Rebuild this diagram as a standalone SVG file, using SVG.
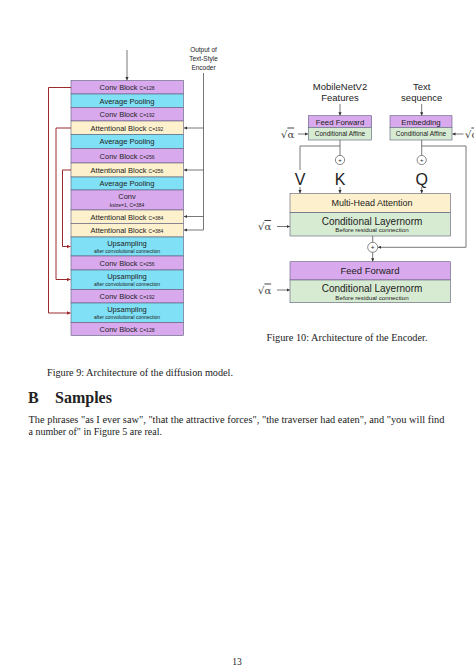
<svg xmlns="http://www.w3.org/2000/svg" width="474" height="670" viewBox="0 0 474 670">
<style>
.blk{stroke:#5a5a7a;stroke-width:0.6}
.cv{fill:#d9a9ee}
.ap{fill:#7fe0f6}
.at{fill:#fdf0cc}
.gr{fill:#d7ebd3}
.t{font-family:"Liberation Sans",Arial,sans-serif;fill:#222;text-anchor:middle}
.s{font-size:7.5px}
.xs{font-size:5px}
.sr{font-family:"Liberation Serif","Times New Roman",serif;fill:#222}
.ln{fill:none;stroke:#555;stroke-width:0.8}
.rd{fill:none;stroke:#9b2a2e;stroke-width:1}
.sq{font-family:"DejaVu Serif",serif;font-size:10px;fill:#444}
</style>
<defs>
<marker id="ag" viewBox="0 0 6 6" refX="6" refY="3" markerWidth="4" markerHeight="4" orient="auto"><path d="M0,0L6,3L0,6z" fill="#333"/></marker>
<marker id="ar" viewBox="0 0 6 6" refX="6" refY="3" markerWidth="4" markerHeight="4" orient="auto"><path d="M0,0L6,3L0,6z" fill="#9b2a2e"/></marker>
</defs>
<rect width="474" height="670" fill="#fff"/>

<g id="diffusion">
<g id="b1"><rect class="blk cv" x="71" y="80.5" width="112.5" height="13.5"/><text class="t s" x="127" y="90">Conv Block <tspan font-size="5">C=128</tspan></text></g>
<g id="b2"><rect class="blk ap" x="71" y="94" width="112.5" height="13.5"/><text class="t s" x="127" y="103.5">Average Pooling</text></g>
<g id="b3"><rect class="blk cv" x="71" y="107.5" width="112.5" height="13.5"/><text class="t s" x="127" y="117">Conv Block <tspan font-size="5">C=192</tspan></text></g>
<g id="b4"><rect class="blk at" x="71" y="121" width="112.5" height="13.5"/><text class="t s" x="127" y="130.5">Attentional Block <tspan font-size="5">C=192</tspan></text></g>
<g id="b5"><rect class="blk ap" x="71" y="134.5" width="112.5" height="14"/><text class="t s" x="127" y="144.2">Average Pooling</text></g>
<g id="b6"><rect class="blk cv" x="71" y="148.5" width="112.5" height="14.5"/><text class="t s" x="127" y="158.5">Conv Block <tspan font-size="5">C=256</tspan></text></g>
<g id="b7"><rect class="blk at" x="71" y="163" width="112.5" height="14"/><text class="t s" x="127" y="172.7">Attentional Block <tspan font-size="5">C=256</tspan></text></g>
<g id="b8"><rect class="blk ap" x="71" y="177" width="112.5" height="13"/><text class="t s" x="127" y="186.2">Average Pooling</text></g>
<g id="b9"><rect class="blk cv" x="71" y="190" width="112.5" height="20"/><text class="t s" x="127" y="199">Conv</text><text class="t xs" x="127" y="206.5">ksize=1, C=384</text></g>
<g id="b10"><rect class="blk at" x="71" y="210" width="112.5" height="13.5"/><text class="t s" x="127" y="219.5">Attentional Block <tspan font-size="5">C=384</tspan></text></g>
<g id="b11"><rect class="blk at" x="71" y="223.5" width="112.5" height="13.5"/><text class="t s" x="127" y="233">Attentional Block <tspan font-size="5">C=384</tspan></text></g>
<g id="b12"><rect class="blk ap" x="71" y="237" width="112.5" height="19"/><text class="t s" x="127" y="245.5">Upsampling</text><text class="t xs" x="127" y="252.8">after convolutional connection</text></g>
<g id="b13"><rect class="blk cv" x="71" y="256" width="112.5" height="14"/><text class="t s" x="127" y="265.7">Conv Block <tspan font-size="5">C=256</tspan></text></g>
<g id="b14"><rect class="blk ap" x="71" y="270" width="112.5" height="19.5"/><text class="t s" x="127" y="278.5">Upsampling</text><text class="t xs" x="127" y="286">after convolutional connection</text></g>
<g id="b15"><rect class="blk cv" x="71" y="289.5" width="112.5" height="13.5"/><text class="t s" x="127" y="299">Conv Block <tspan font-size="5">C=192</tspan></text></g>
<g id="b16"><rect class="blk ap" x="71" y="303" width="112.5" height="19.5"/><text class="t s" x="127" y="311.5">Upsampling</text><text class="t xs" x="127" y="319">after convolutional connection</text></g>
<g id="b17"><rect class="blk cv" x="71" y="322.5" width="112.5" height="13"/><text class="t s" x="127" y="331.7">Conv Block <tspan font-size="5">C=128</tspan></text></g>
<g id="enc-label"><text class="t" font-size="6.5" x="203.5" y="51.5">Output of</text><text class="t" font-size="6.5" x="203.5" y="60.5">Text-Style</text><text class="t" font-size="6.5" x="203.5" y="69.5">Encoder</text></g>
</g>

<g id="encoder">
<text class="t" font-size="9.5" x="340" y="90">MobileNetV2</text>
<text class="t" font-size="9.5" x="340" y="101">Features</text>
<text class="t" font-size="9.5" x="421.7" y="90">Text</text>
<text class="t" font-size="9.5" x="421.7" y="101">sequence</text>
<g id="ff1"><rect class="blk cv" x="308.3" y="115.7" width="63.4" height="11.6"/><text class="t" font-size="7.8" x="340" y="124.6">Feed Forward</text></g>
<g id="ca1"><rect class="blk gr" x="308.3" y="127.3" width="63.4" height="12.7"/><text class="t" font-size="6.5" x="340" y="136">Conditional Affine</text></g>
<g id="emb"><rect class="blk cv" x="390" y="115.7" width="62" height="11.6"/><text class="t" font-size="7.8" x="421" y="124.6">Embedding</text></g>
<g id="ca2"><rect class="blk gr" x="390" y="127.3" width="62" height="12.7"/><text class="t" font-size="6.5" x="421" y="136">Conditional Affine</text></g>
<g id="opk"><circle cx="340" cy="160" r="4.6" fill="#fff" stroke="#555" stroke-width="0.7"/><text class="t" font-size="6" x="340" y="162">+</text></g>
<g id="opq"><circle cx="421.7" cy="160" r="4.6" fill="#fff" stroke="#555" stroke-width="0.7"/><text class="t" font-size="6" x="421.7" y="162">+</text></g>
<text class="t" font-size="16" x="300" y="185">V</text>
<text class="t" font-size="16" x="340" y="185">K</text>
<text class="t" font-size="16" x="421.7" y="185">Q</text>
<g id="mha"><rect class="blk at" x="290" y="193.5" width="160.5" height="19.2"/><text class="t" font-size="9" x="372" y="206.3">Multi-Head Attention</text></g>
<g id="cln1"><rect class="blk gr" x="290" y="212.7" width="160.5" height="23.3"/><text class="t" font-size="10" x="372" y="224.5">Conditional Layernorm</text><text class="t" font-size="6.2" x="372" y="232">Before residual connection</text></g>
<g id="res"><circle cx="372.7" cy="247.3" r="5" fill="#fff" stroke="#555" stroke-width="0.7"/><text class="t" font-size="6.5" x="372.7" y="249.6">+</text></g>
<g id="ff2"><rect class="blk cv" x="290" y="261.7" width="160.5" height="18.3"/><text class="t" font-size="9.5" x="370" y="274.3">Feed Forward</text></g>
<g id="cln2"><rect class="blk gr" x="290" y="280" width="160.5" height="22.7"/><text class="t" font-size="10" x="372" y="292">Conditional Layernorm</text><text class="t" font-size="6.2" x="372" y="299.5">Before residual connection</text></g>
<text class="sq" x="281" y="137.5">√<tspan text-decoration="overline">α</tspan></text>
<text class="sq" x="465" y="137.5">√<tspan text-decoration="overline">α</tspan></text>
<text class="sq" x="258" y="230">√<tspan text-decoration="overline">α</tspan></text>
<text class="sq" x="258" y="293.5">√<tspan text-decoration="overline">α</tspan></text>
</g>

<g id="connectors">
<line class="ln" x1="127" y1="50" x2="127" y2="80.3" marker-end="url(#ag)"/>
<path class="ln" d="M203.5,73V230"/>
<line class="ln" x1="203.5" y1="128" x2="184" y2="128" marker-end="url(#ag)"/>
<line class="ln" x1="203.5" y1="170" x2="184" y2="170" marker-end="url(#ag)"/>
<line class="ln" x1="203.5" y1="216.5" x2="184" y2="216.5" marker-end="url(#ag)"/>
<line class="ln" x1="203.5" y1="230" x2="184" y2="230" marker-end="url(#ag)"/>
<path class="rd" d="M71,87.5H48.5V313H70.5" marker-end="url(#ar)"/>
<path class="rd" d="M71,128H56V279.5H70.5" marker-end="url(#ar)"/>
<path class="rd" d="M71,170H62.5V246.5H70.5" marker-end="url(#ar)"/>
<line class="ln" x1="340" y1="104" x2="340" y2="115.5" marker-end="url(#ag)"/>
<line class="ln" x1="421.7" y1="104" x2="421.7" y2="115.5" marker-end="url(#ag)"/>
<line class="ln" x1="298" y1="134" x2="308" y2="134" marker-end="url(#ag)"/>
<line class="ln" x1="463.5" y1="134" x2="452.3" y2="134" marker-end="url(#ag)"/>
<path class="ln" d="M340,140V155.4"/>
<path class="ln" d="M421.7,140V155.4"/>
<path class="ln" d="M340,146H300V170"/>
<path class="ln" d="M421.7,146H466V247.3H378" marker-end="url(#ag)"/>
<line class="ln" x1="300" y1="187" x2="300" y2="193.3" marker-end="url(#ag)"/>
<line class="ln" x1="340" y1="187" x2="340" y2="193.3" marker-end="url(#ag)"/>
<line class="ln" x1="421.7" y1="187" x2="421.7" y2="193.3" marker-end="url(#ag)"/>
<line class="ln" x1="277" y1="226.5" x2="289.8" y2="226.5" marker-end="url(#ag)"/>
<line class="ln" x1="277" y1="290" x2="289.8" y2="290" marker-end="url(#ag)"/>
<path class="ln" d="M372.7,236V242.3"/>
<line class="ln" x1="372.7" y1="252.3" x2="372.7" y2="261.5" marker-end="url(#ag)"/>
</g>

<g id="page">
<text class="sr" font-size="10" x="266.5" y="341" textLength="161" lengthAdjust="spacingAndGlyphs">Figure 10: Architecture of the Encoder.</text>
<text class="sr" font-size="10" x="47" y="375.5" textLength="186" lengthAdjust="spacingAndGlyphs">Figure 9: Architecture of the diffusion model.</text>
<text class="sr" font-size="16" font-weight="bold" x="28" y="402.5">B</text>
<text class="sr" font-size="16" font-weight="bold" x="55" y="402.5">Samples</text>
<text class="sr" font-size="10" x="28.5" y="423" textLength="416" lengthAdjust="spacingAndGlyphs">The phrases "as I ever saw", "that the attractive forces", "the traverser had eaten", and "you will find</text>
<text class="sr" font-size="10" x="28.5" y="434.5">a number of" in Figure 5 are real.</text>
<text class="sr" font-size="9.5" x="237" y="665" text-anchor="middle">13</text>
</g>
</svg>
